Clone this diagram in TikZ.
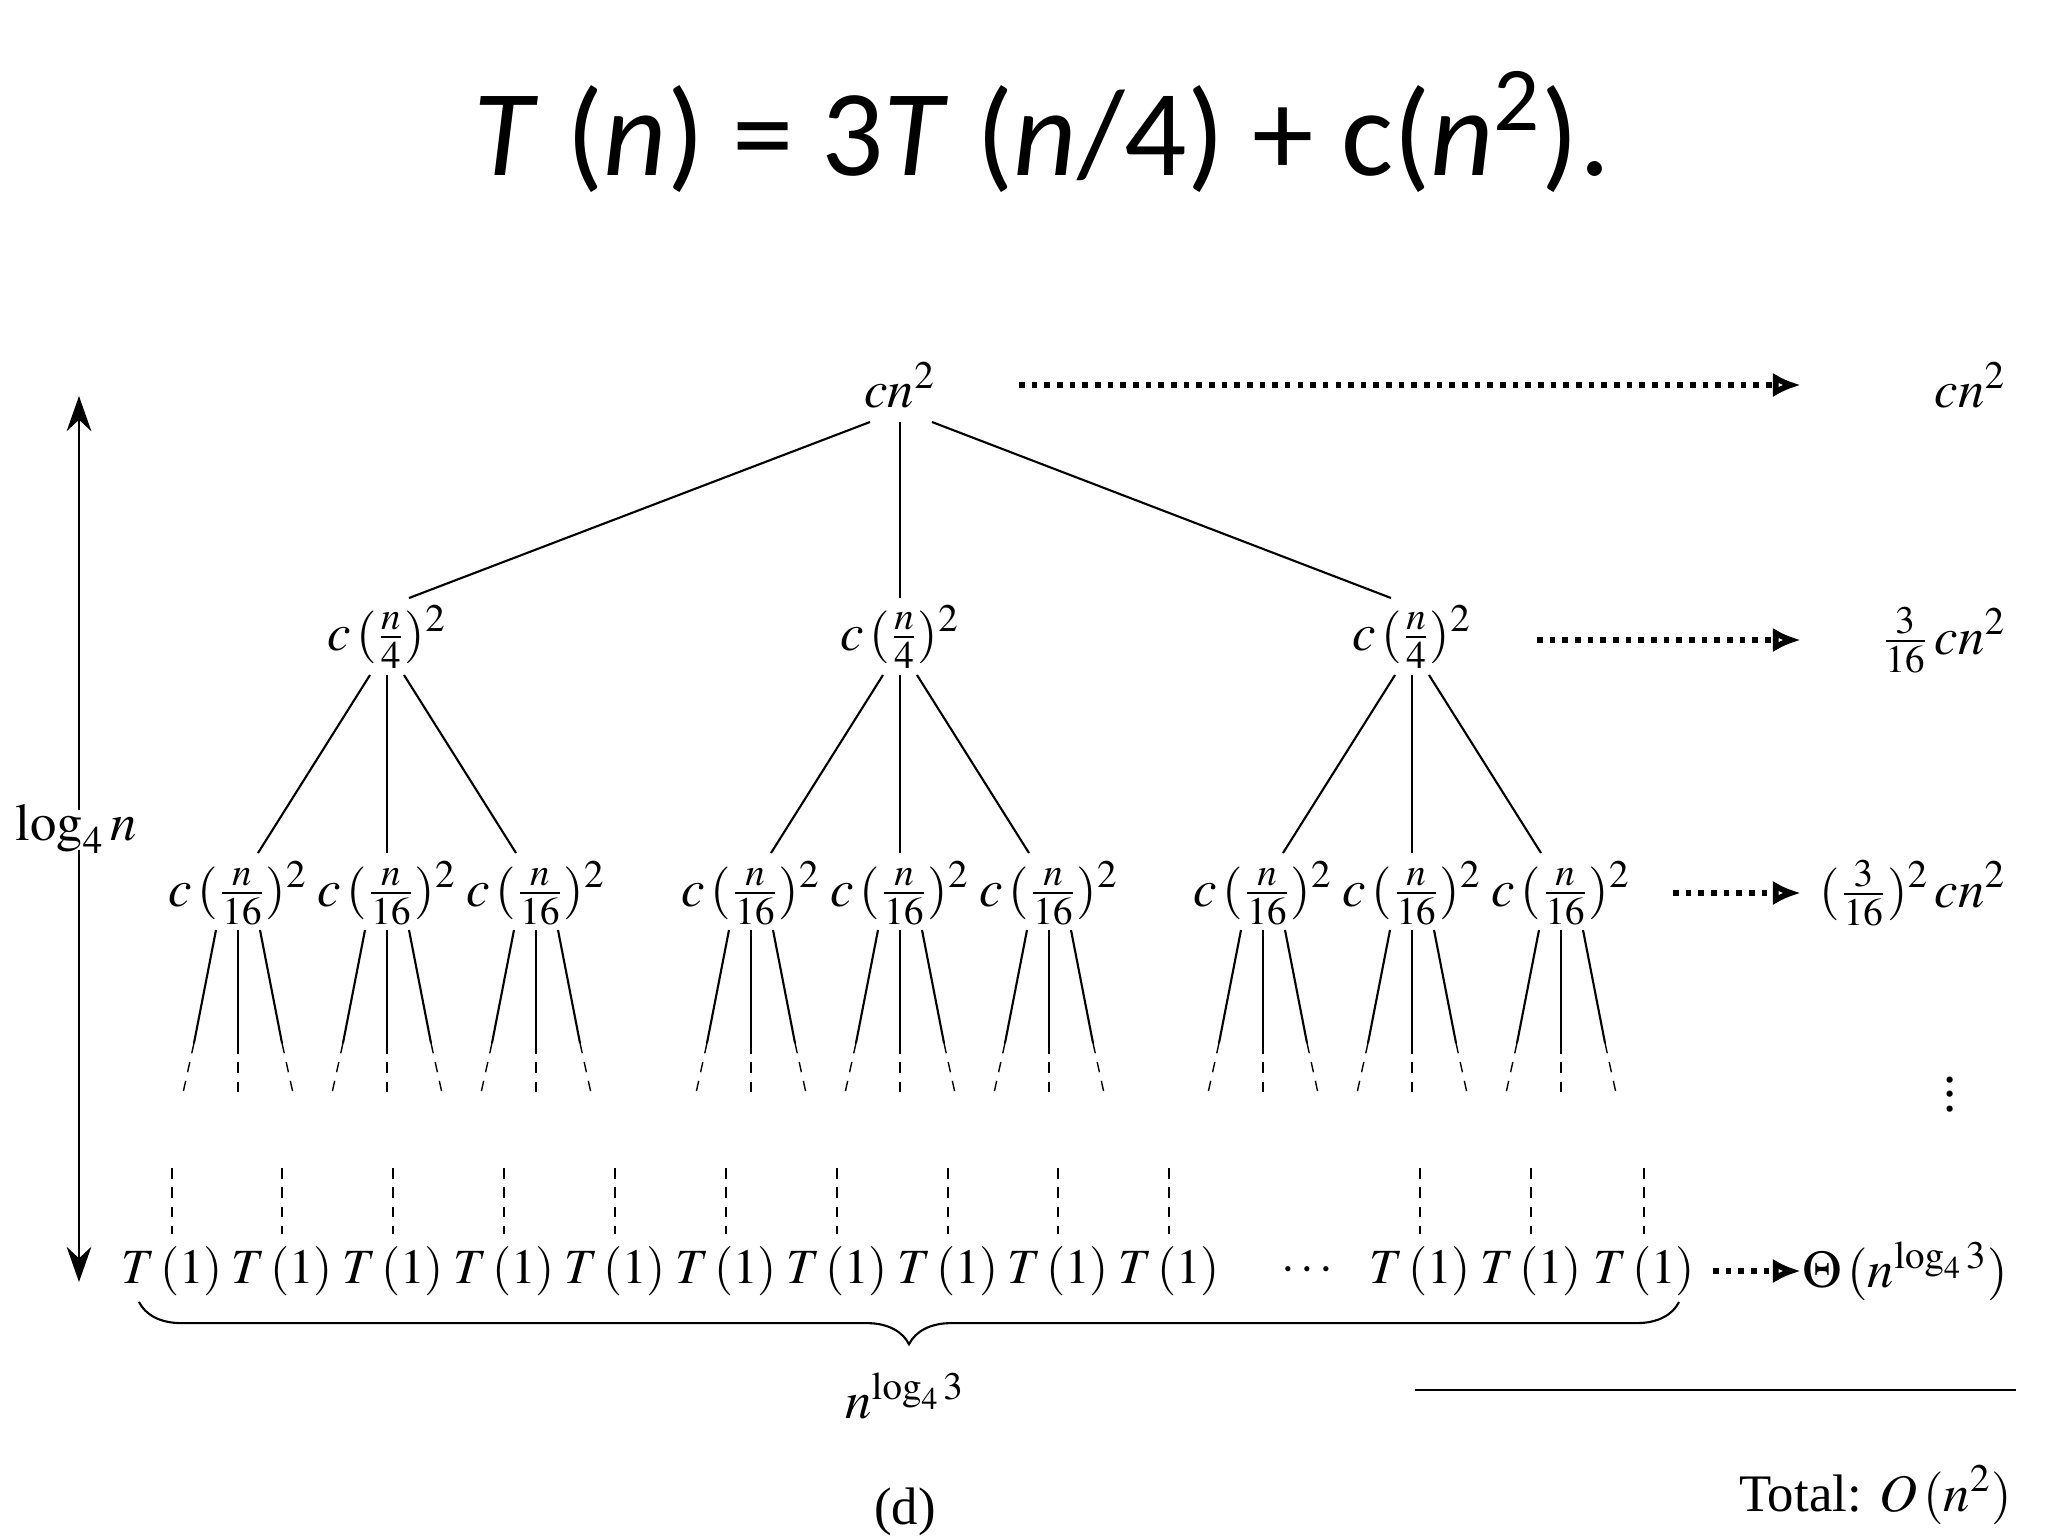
\documentclass[tikz,border=0pt]{standalone}
\usepackage{amsmath}
\usepackage{mathptmx}
\usepackage{fontspec}
\setmainfont{Liberation Serif}
\newfontfamily\titlefont{Carlito}
\usetikzlibrary{decorations.pathreplacing,arrows.meta}
\begin{document}
\begin{tikzpicture}[x=0.01cm,y=-0.01cm,
  lab/.style={font=\fontsize{15}{17}\selectfont, inner sep=1pt},
  leaf/.style={font=\fontsize{14}{16}\selectfont, inner sep=1pt},
  edge/.style={line width=0.6pt},
  vedge/.style={line width=0.4pt},
  dsh/.style={line width=0.4pt, dash pattern=on 3pt off 2.5pt},
  sumarrow/.style={line width=1.6pt, dotted, -{Latex[length=8pt,width=7pt,open]}}]
\useasboundingbox (0,0) rectangle (2048,1536);
\node[font=\titlefont\fontsize{35}{40}\selectfont] (title) at (1042,132) {\textit{T} (\textit{n}) = 3\textit{T} (\textit{n}/4) + c(\textit{n}\textsuperscript{2}).};
\node[lab] (r) at (900,385) {$cn^2$};
\foreach \i/\x in {1/387,2/900,3/1412}{
  \node[lab] (a\i) at (\x,637) {$c\,(\frac{n}{4})^2$};
}
\draw[edge] (870,422) -- (409,598);
\draw[vedge] (900,422) -- (900,598);
\draw[edge] (932,422) -- (1391,598);
\foreach \p/\x in {1/387,2/900,3/1412}{
  \foreach \j/\d in {1/-149,2/0,3/149}{
    \pgfmathsetmacro\cx{\x+\d}
    \node[lab] (b\p\j) at (\cx,893) {$c\,(\frac{n}{16})^2$};
  }
  \draw[edge] (\x-17,675) -- (\x-129,853);
  \draw[vedge] (\x,675) -- (\x,853);
  \draw[edge] (\x+17,675) -- (\x+129,853);
}
\foreach \p/\x in {1/387,2/900,3/1412}{
  \foreach \d in {-149,0,149}{
    \pgfmathsetmacro\cx{\x+\d}
    \draw[edge] (\cx-22,930) -- (\cx-44,1043);
    \draw[dsh] (\cx-44,1043) -- (\cx-55,1093);
    \draw[vedge] (\cx,930) -- (\cx,1043);
    \draw[dsh] (\cx,1043) -- (\cx,1093);
    \draw[edge] (\cx+22,930) -- (\cx+44,1043);
    \draw[dsh] (\cx+44,1043) -- (\cx+55,1093);
  }
}
\foreach \i/\x in {1/172,2/282,3/393,4/504,5/615,6/726,7/837,8/948,9/1058,10/1169,11/1420,12/1531,13/1644}{
  \node[leaf] (t\i) at (\x,1271) {$T\,(1)$};
  \draw[dsh] (\x,1168) -- (\x,1234);
}
\node[leaf] (dots) at (1310,1271) {$\cdots$};
\node[lab,anchor=east] (s0) at (2010,385) {$cn^2$};
\node[lab,anchor=east] (s1) at (2010,640) {$\frac{3}{16}\,cn^2$};
\node[lab,anchor=east] (s2) at (2010,893) {$(\frac{3}{16})^2\,cn^2$};
\node[lab] (s3) at (1950,1084) {$\vdots$};
\node[lab,anchor=east] (s4) at (2012,1271) {$\Theta\,(n^{\log_4 3})$};
\coordinate (e0) at (1801,385);
\coordinate (e1) at (1801,640);
\coordinate (e2) at (1801,893);
\coordinate (e4) at (1801,1271);
\draw[sumarrow] (1019,385) -- (e0);
\draw[sumarrow] (1537,640) -- (e1);
\draw[sumarrow] (1673,893) -- (e2);
\draw[sumarrow] (1713,1271) -- (e4);
\node[lab,fill=white] (h) at (76,829) {$\log_4 n$};
\coordinate (u) at (79,396);
\coordinate (dd) at (79,1282);
\draw[line width=0.7pt,-{Stealth[length=10pt,width=7pt]}] (79,810) -- (u);
\draw[line width=0.7pt,-{Stealth[length=10pt,width=7pt]}] (79,850) -- (dd);
\draw[line width=0.6pt,decorate,decoration={brace,mirror,amplitude=12pt}] (139,1302) -- (1679,1302);
\node[lab] (nl) at (905,1396) {$n^{\log_4 3}$};
\draw[line width=0.7pt] (1415,1390) -- (2016,1390);
\node[lab,anchor=east] (tot) at (2016,1495) {Total: $O\,(n^2)$};
\node[lab] (d) at (905,1512) {(d)};
\end{tikzpicture}
\end{document}
